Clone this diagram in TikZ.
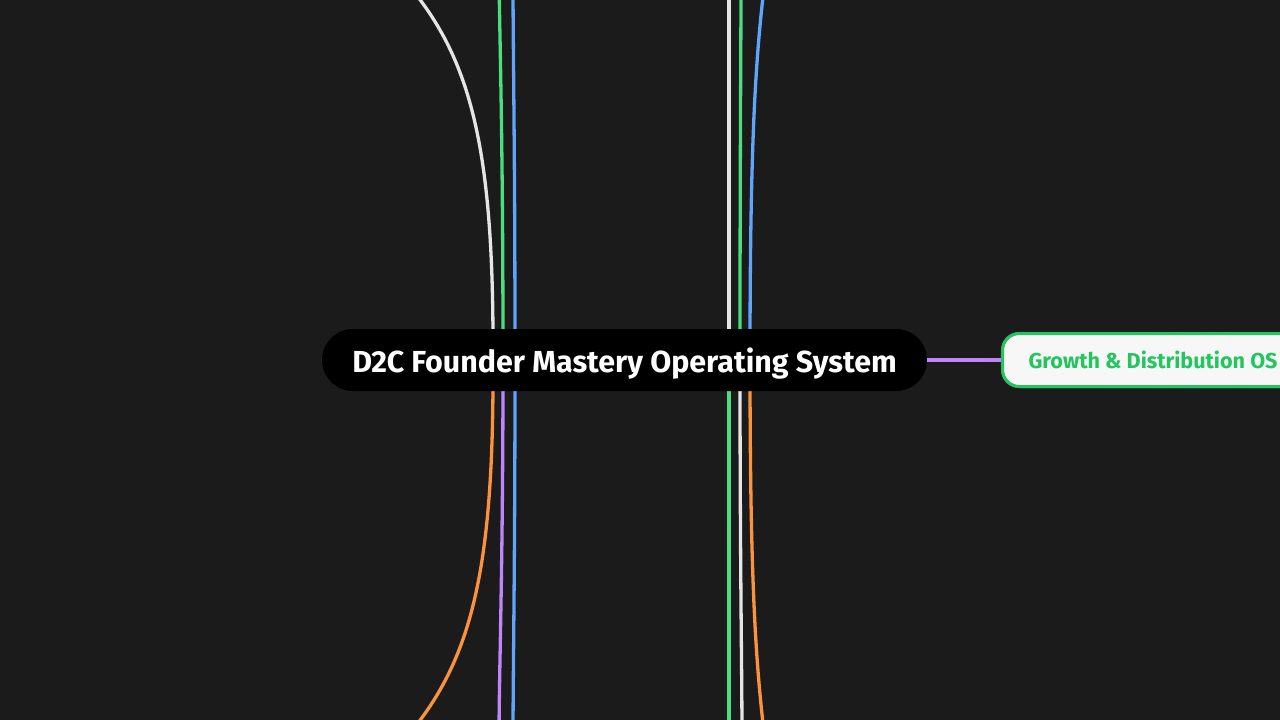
\documentclass[tikz,border=0pt]{standalone}
\usepackage{fontspec}
\setmainfont{Fira Sans}
\usetikzlibrary{shapes.misc}
\definecolor{bg}{HTML}{1B1B1B}
\definecolor{cwhite}{HTML}{E5E5E5}
\definecolor{cgreen}{HTML}{4ADE80}
\definecolor{cblue}{HTML}{60A5FA}
\definecolor{corange}{HTML}{FB923C}
\definecolor{cpurple}{HTML}{C084FC}
\definecolor{dgreen}{HTML}{22C55E}
\definecolor{boxfill}{HTML}{F7F7F7}
\tikzset{
  link/.style={line width=3.3pt, line cap=round},
  rootbox/.style={rounded rectangle, fill=black, text=white, font=\bfseries\fontsize{30.4}{34}\selectfont, minimum height=62pt, minimum width=605pt, inner sep=0pt, text height=24pt, text depth=0pt},
  childbox/.style={draw=dgreen, line width=3pt, fill=boxfill, text=dgreen, rounded corners=17pt, font=\bfseries\fontsize{21.6}{26}\selectfont, minimum height=53pt, inner xsep=26pt, inner ysep=0pt, text height=16pt, text depth=0pt, anchor=west}
}
\begin{document}
\begin{tikzpicture}[x=1pt,y=-1pt]
\useasboundingbox (0,0) rectangle (1280,720);
\fill[bg] (0,0) rectangle (1280,720);
\clip (0,0) rectangle (1280,720);
% coordinates
\coordinate (tl1) at (395,-30);
\coordinate (tl2) at (499,-20);
\coordinate (tl3) at (513,-20);
\coordinate (bl1) at (395,750);
\coordinate (bl2) at (499,740);
\coordinate (bl3) at (513,740);
\coordinate (tr1) at (729,-20);
\coordinate (tr2) at (741,-20);
\coordinate (tr3) at (765,-20);
\coordinate (br1) at (729,740);
\coordinate (br2) at (742,740);
\coordinate (br3) at (765,740);
\coordinate (sl1) at (493,360);
\coordinate (sl2) at (503,360);
\coordinate (sl3) at (515,360);
\coordinate (sr1) at (729,360);
\coordinate (sr2) at (740,360);
\coordinate (sr3) at (750,360);
% links behind root
\draw[link, cwhite] (sl1) .. controls (494,140) and (470,50) .. (tl1);
\draw[link, cgreen] (sl2) .. controls (503,150) and (500,50) .. (tl2);
\draw[link, cblue] (sl3) .. controls (515,150) and (513,50) .. (tl3);
\draw[link, corange] (sl1) .. controls (494,580) and (470,670) .. (bl1);
\draw[link, cpurple] (sl2) .. controls (503,570) and (499,670) .. (bl2);
\draw[link, cblue] (sl3) .. controls (515,570) and (513,670) .. (bl3);
\draw[link, cwhite] (sr1) -- (tr1);
\draw[link, cgreen] (sr2) .. controls (740,150) and (741,50) .. (tr2);
\draw[link, cblue] (sr3) .. controls (750,150) and (755,60) .. (tr3);
\draw[link, cgreen] (sr1) -- (br1);
\draw[link, cwhite] (sr2) .. controls (740,570) and (742,670) .. (br2);
\draw[link, corange] (sr3) .. controls (750,570) and (755,660) .. (br3);
% nodes
\node[rootbox] (root) at (624.5,360) {D2C Founder Mastery Operating System};
\node[childbox] (growth) at (1001,360) {Growth \& Distribution OS};
\draw[line width=3.5pt, cpurple] (root.east) -- (growth.west);
\node[childbox] at (1001,360) {Growth \& Distribution OS};
\end{tikzpicture}
\end{document}
